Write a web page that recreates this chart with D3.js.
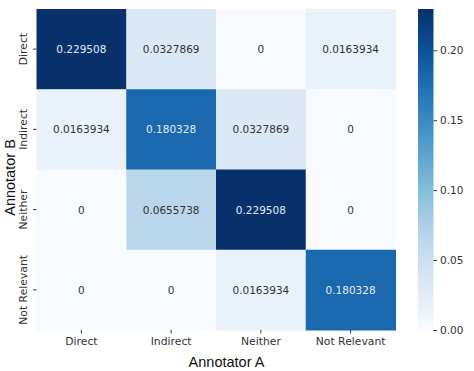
<!DOCTYPE html>
<html><head><meta charset="utf-8">
<script src="https://cdn.jsdelivr.net/npm/d3@7"></script>
<style>body{margin:0;background:#fff}svg{display:block}</style>
</head><body>
<svg id="c" width="474" height="371"></svg>
<script>
const colLabels = ["Direct","Indirect","Neither","Not Relevant"];
const rowLabels = ["Direct","Indirect","Neither","Not Relevant"];
const values = [
  [0.229508, 0.0327869, 0, 0.0163934],
  [0.0163934, 0.180328, 0.0327869, 0],
  [0, 0.0655738, 0.229508, 0],
  [0, 0, 0.0163934, 0.180328]
];
const valueLabels = [
  ["0.229508","0.0327869","0","0.0163934"],
  ["0.0163934","0.180328","0.0327869","0"],
  ["0","0.0655738","0.229508","0"],
  ["0","0","0.0163934","0.180328"]
];
const cbTicks = [0, 0.05, 0.10, 0.15, 0.20];
const xTitle = "Annotator A", yTitle = "Annotator B";

const svg = d3.select("#c");
const L = 36.5, R = 395.5, T = 9, B = 330;
const x = d3.scaleBand().domain(colLabels).range([L, R]);
const y = d3.scaleBand().domain(rowLabels).range([T, B]);
const vmax = d3.max(values.flat());
const color = d3.scaleSequential(d3.interpolateBlues).domain([0, vmax]);

const cells = [];
values.forEach((row, i) => row.forEach((v, j) => cells.push({r: rowLabels[i], c: colLabels[j], v, t: valueLabels[i][j]})));

svg.append("g").selectAll("rect").data(cells).join("rect")
  .attr("x", d => x(d.c)).attr("y", d => y(d.r))
  .attr("width", x.bandwidth() + 0.5).attr("height", y.bandwidth() + 0.5)
  .attr("fill", d => color(d.v));

svg.append("g").selectAll("text").data(cells).join("text")
  .attr("x", d => x(d.c) + x.bandwidth()/2)
  .attr("y", d => y(d.r) + y.bandwidth()/2)
  .attr("text-anchor", "middle").attr("dominant-baseline", "central")
  .attr("font-family", "DejaVu Sans").attr("font-size", 10.5)
  .attr("fill", d => (d.v / vmax) > 0.6 ? "#e4ecf6" : "#333333")
  .text(d => d.t);

// x axis
const xa = svg.append("g").attr("transform", `translate(0,${B})`)
  .call(d3.axisBottom(x).tickSize(3.5).tickPadding(4));
xa.select(".domain").remove();
xa.selectAll("line").attr("stroke", "#333");
xa.selectAll("text").attr("font-family", "DejaVu Sans").attr("font-size", 10.8).attr("fill", "#333");

// y axis
const ya = svg.append("g").attr("transform", `translate(${L},0)`)
  .call(d3.axisLeft(y).tickSize(3.5).tickPadding(0));
ya.select(".domain").remove();
ya.selectAll("line").attr("stroke", "#333");
ya.selectAll("text").attr("font-family", "DejaVu Sans").attr("font-size", 10.8).attr("fill", "#333")
  .attr("text-anchor", "middle").attr("dy", null).attr("dominant-baseline", "auto")
  .attr("transform", "translate(-10,0) rotate(-90)").attr("x", 0).attr("y", 0);

// titles
svg.append("text").attr("x", 226.5).attr("y", 366.5).attr("text-anchor", "middle")
  .attr("font-family", "Liberation Sans").attr("font-size", 14.5).attr("fill", "#111").text(xTitle);
svg.append("text").attr("transform", "translate(15,177.5) rotate(-90)").attr("text-anchor", "middle")
  .attr("font-family", "Liberation Sans").attr("font-size", 14.5).attr("fill", "#111").text(yTitle);

// colorbar
const cbx = 418, cbw = 15.5;
const cy = d3.scaleLinear().domain([0, vmax]).range([B, T]);
const defs = svg.append("defs");
const grad = defs.append("linearGradient").attr("id", "g").attr("x1", 0).attr("y1", 1).attr("x2", 0).attr("y2", 0);
d3.range(0, 1.0001, 0.05).forEach(t => grad.append("stop").attr("offset", t).attr("stop-color", d3.interpolateBlues(t)));
svg.append("rect").attr("x", cbx).attr("y", T).attr("width", cbw).attr("height", B - T).attr("fill", "url(#g)");
const ca = svg.append("g").attr("transform", `translate(${cbx + cbw},0)`)
  .call(d3.axisRight(cy).tickValues(cbTicks).tickFormat(d3.format(".2f")).tickSize(3.5).tickPadding(3));
ca.select(".domain").remove();
ca.selectAll("line").attr("stroke", "#333");
ca.selectAll("text").attr("font-family", "DejaVu Sans").attr("font-size", 10.5).attr("fill", "#333");
</script>
</body></html>
